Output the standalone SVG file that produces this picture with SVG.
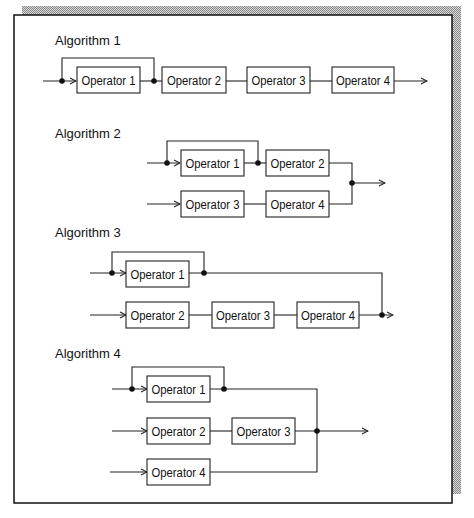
<svg xmlns="http://www.w3.org/2000/svg" width="474" height="518" viewBox="0 0 474 518">
<style>
.box{fill:#fff;stroke:#222;stroke-width:1.1}
.ln{fill:none;stroke:#222;stroke-width:1.1}
.t{font-family:"Liberation Sans",Arial,sans-serif;font-size:12.3px;fill:#111}
.h{font-family:"Liberation Sans",Arial,sans-serif;font-size:13px;fill:#111}
.dot{fill:#111}
</style>
<defs>
<pattern id="hatch" width="2" height="2" patternUnits="userSpaceOnUse">
<rect width="2" height="2" fill="#d8d8d8"/>
<rect width="1" height="1" fill="#888"/>
<rect x="1" y="1" width="1" height="1" fill="#888"/>
</pattern>
<marker id="arr" markerWidth="8" markerHeight="8" refX="7" refY="4" orient="auto" markerUnits="userSpaceOnUse">
<path d="M1,1 L7,4 L1,7" fill="none" stroke="#222" stroke-width="1.1"/>
</marker>
</defs>
<rect width="474" height="518" fill="#fff"/>
<g id="frame">
<rect x="22" y="6" width="439" height="488" fill="url(#hatch)"/>
<rect x="14" y="15" width="438" height="488" fill="#fff" stroke="#111" stroke-width="1.5"/>
</g>
<g id="connectors">
<!-- Algorithm 1 -->
<path class="ln" d="M43,81 H76" marker-end="url(#arr)"/>
<path class="ln" d="M62,81 V58 H154 V81"/>
<path class="ln" d="M140,81 H162"/>
<path class="ln" d="M226,81 H247"/>
<path class="ln" d="M310,81 H332"/>
<path class="ln" d="M394,81 H427" marker-end="url(#arr)"/>
<circle class="dot" cx="62" cy="81" r="2.8"/>
<circle class="dot" cx="154" cy="81" r="2.8"/>
<!-- Algorithm 2 -->
<path class="ln" d="M147,163 H180" marker-end="url(#arr)"/>
<path class="ln" d="M167,163 V141 H258 V163"/>
<path class="ln" d="M244,163 H266"/>
<path class="ln" d="M329,163 H352 V204 H329"/>
<path class="ln" d="M147,204 H180" marker-end="url(#arr)"/>
<path class="ln" d="M244,204 H266"/>
<path class="ln" d="M352,183 H385" marker-end="url(#arr)"/>
<circle class="dot" cx="167" cy="163" r="2.8"/>
<circle class="dot" cx="258" cy="163" r="2.8"/>
<circle class="dot" cx="352" cy="183" r="2.8"/>
<!-- Algorithm 3 -->
<path class="ln" d="M90,273 H126" marker-end="url(#arr)"/>
<path class="ln" d="M112,273 V252 H204 V273"/>
<path class="ln" d="M189,273 H382 V315"/>
<path class="ln" d="M90,315 H126" marker-end="url(#arr)"/>
<path class="ln" d="M189,315 H212"/>
<path class="ln" d="M274,315 H297"/>
<path class="ln" d="M359,315 H393" marker-end="url(#arr)"/>
<circle class="dot" cx="112" cy="273" r="2.8"/>
<circle class="dot" cx="204" cy="273" r="2.8"/>
<circle class="dot" cx="382" cy="315" r="2.8"/>
<!-- Algorithm 4 -->
<path class="ln" d="M112,389 H147" marker-end="url(#arr)"/>
<path class="ln" d="M132,389 V367 H224 V389"/>
<path class="ln" d="M210,389 H317 V472 H210"/>
<path class="ln" d="M112,431 H147" marker-end="url(#arr)"/>
<path class="ln" d="M210,431 H232"/>
<path class="ln" d="M295,431 H368" marker-end="url(#arr)"/>
<path class="ln" d="M110,472 H147" marker-end="url(#arr)"/>
<circle class="dot" cx="132" cy="389" r="2.8"/>
<circle class="dot" cx="224" cy="389" r="2.8"/>
<circle class="dot" cx="317" cy="431" r="2.8"/>
</g>
<g id="labels">
<text class="h" x="55" y="45">Algorithm 1</text>
<text class="h" x="55" y="138">Algorithm 2</text>
<text class="h" x="55" y="237">Algorithm 3</text>
<text class="h" x="55" y="358">Algorithm 4</text>
</g>
<g id="a1-op1"><rect class="box" x="77" y="67" width="63" height="26"/><text class="t" x="81.5" y="85" textLength="54" lengthAdjust="spacingAndGlyphs">Operator 1</text></g>
<g id="a1-op2"><rect class="box" x="162" y="67" width="64" height="26"/><text class="t" x="167" y="85" textLength="54" lengthAdjust="spacingAndGlyphs">Operator 2</text></g>
<g id="a1-op3"><rect class="box" x="247" y="67" width="63" height="26"/><text class="t" x="251.5" y="85" textLength="54" lengthAdjust="spacingAndGlyphs">Operator 3</text></g>
<g id="a1-op4"><rect class="box" x="332" y="67" width="62" height="26"/><text class="t" x="336" y="85" textLength="54" lengthAdjust="spacingAndGlyphs">Operator 4</text></g>

<g id="a2-op1"><rect class="box" x="181" y="150" width="63" height="26"/><text class="t" x="185.5" y="168" textLength="54" lengthAdjust="spacingAndGlyphs">Operator 1</text></g>
<g id="a2-op2"><rect class="box" x="266" y="150" width="63" height="26"/><text class="t" x="270.5" y="168" textLength="54" lengthAdjust="spacingAndGlyphs">Operator 2</text></g>
<g id="a2-op3"><rect class="box" x="181" y="191" width="63" height="26"/><text class="t" x="185.5" y="209" textLength="54" lengthAdjust="spacingAndGlyphs">Operator 3</text></g>
<g id="a2-op4"><rect class="box" x="266" y="191" width="63" height="26"/><text class="t" x="270.5" y="209" textLength="54" lengthAdjust="spacingAndGlyphs">Operator 4</text></g>

<g id="a3-op1"><rect class="box" x="126" y="261" width="63" height="26"/><text class="t" x="130.5" y="279" textLength="54" lengthAdjust="spacingAndGlyphs">Operator 1</text></g>
<g id="a3-op2"><rect class="box" x="126" y="302" width="63" height="26"/><text class="t" x="130.5" y="320" textLength="54" lengthAdjust="spacingAndGlyphs">Operator 2</text></g>
<g id="a3-op3"><rect class="box" x="212" y="302" width="62" height="26"/><text class="t" x="216" y="320" textLength="54" lengthAdjust="spacingAndGlyphs">Operator 3</text></g>
<g id="a3-op4"><rect class="box" x="297" y="302" width="62" height="26"/><text class="t" x="301" y="320" textLength="54" lengthAdjust="spacingAndGlyphs">Operator 4</text></g>

<g id="a4-op1"><rect class="box" x="147" y="376" width="63" height="26"/><text class="t" x="151.5" y="394" textLength="54" lengthAdjust="spacingAndGlyphs">Operator 1</text></g>
<g id="a4-op2"><rect class="box" x="147" y="418" width="63" height="26"/><text class="t" x="151.5" y="436" textLength="54" lengthAdjust="spacingAndGlyphs">Operator 2</text></g>
<g id="a4-op3"><rect class="box" x="232" y="418" width="63" height="26"/><text class="t" x="236.5" y="436" textLength="54" lengthAdjust="spacingAndGlyphs">Operator 3</text></g>
<g id="a4-op4"><rect class="box" x="147" y="459" width="63" height="26"/><text class="t" x="151.5" y="477" textLength="54" lengthAdjust="spacingAndGlyphs">Operator 4</text></g>
</svg>
